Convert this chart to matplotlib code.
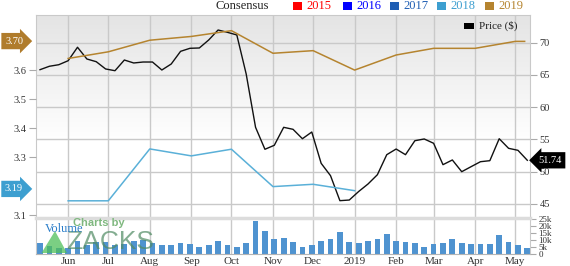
import matplotlib
matplotlib.use("Agg")
import matplotlib.pyplot as plt
import matplotlib.transforms as mtransforms
from matplotlib.patches import Rectangle, Polygon
import numpy as np
import pandas as pd

plt.rcParams["font.family"] = ["Liberation Serif", "DejaVu Serif"]

# weekly price / volume
weeks = pd.date_range("2018-05-11", periods=53, freq="7D").to_numpy()
price = [65.81, 66.34, 66.58, 67.20, 69.29, 67.47, 67.05, 65.92, 65.65, 67.31,
         66.85, 67.00, 67.00, 65.76, 66.69, 68.66, 69.13, 69.18, 70.42, 71.97,
         71.61, 71.20, 65.14, 56.86, 53.45, 54.07, 56.86, 56.55, 55.09, 56.13,
         51.27, 49.35, 45.47, 45.57, 46.89, 48.06, 49.50, 52.61, 53.49, 52.61,
         54.78, 55.05, 54.38, 51.06, 51.79, 49.97, 50.75, 51.52, 51.68, 55.09,
         53.60, 53.29, 51.74]
volume_k = [7.6, 5.5, 4.3, 4.5, 9.5, 6.4, 8.6, 8.8, 6.5, 7.0,
            9.0, 10.0, 7.9, 6.2, 6.4, 8.1, 7.1, 5.2, 6.4, 9.5,
            6.2, 4.8, 8.1, 23.8, 16.7, 11.0, 11.2, 8.6, 5.0, 6.4,
            9.0, 10.5, 15.7, 8.8, 8.1, 9.0, 10.5, 14.0, 9.5, 8.6,
            7.9, 4.8, 6.9, 7.6, 10.7, 7.9, 7.1, 7.1, 7.1, 13.6,
            8.6, 6.7, 4.5]

# consensus estimates
eps_dates_2019 = pd.to_datetime(["2018-06-01", "2018-07-01", "2018-08-01", "2018-09-01",
                                 "2018-10-01", "2018-11-01", "2018-12-01", "2019-01-01",
                                 "2019-02-01", "2019-03-01", "2019-04-01", "2019-05-01",
                                 "2019-05-08"]).to_numpy()
eps_2019 = [3.640, 3.663, 3.703, 3.716, 3.736, 3.658, 3.667, 3.600,
            3.652, 3.675, 3.675, 3.699, 3.699]
eps_dates_2018 = pd.to_datetime(["2018-06-01", "2018-07-01", "2018-08-01", "2018-09-01",
                                 "2018-10-01", "2018-11-01", "2018-12-01",
                                 "2019-01-01"]).to_numpy()
eps_2018 = [3.149, 3.149, 3.328, 3.304, 3.327, 3.198, 3.206, 3.184]

month_ticks = pd.date_range("2018-06-01", "2019-05-01", freq="MS").to_numpy()
month_labels = ["Jun", "Jul", "Aug", "Sep", "Oct", "Nov", "Dec", "2019",
                "Feb", "Mar", "Apr", "May"]
price_ticks = [45, 50, 55, 60, 65, 70]
eps_ticks = [3.1, 3.3, 3.4, 3.5, 3.6]
vol_ticks = [0, 5, 10, 15, 20, 25]
vol_labels = ["0", "5k", "10k", "15k", "20k", "25k"]

years = ["2015", "2016", "2017", "2018", "2019"]
year_colors = ["#ff0000", "#0000ff", "#1f5eb3", "#3d9fd0", "#b5842f"]

W, H = 570, 266
fig = plt.figure(figsize=(W / 100, H / 100), dpi=100)


def box(l, t, r, b):
    return [l / W, 1 - b / H, (r - l) / W, (b - t) / H]


def fx(px):
    return px / W


def fy(py):
    return 1 - py / H


xmin, xmax = np.datetime64("2018-05-08"), np.datetime64("2019-05-12")
grid_c = "#c9c9c9"
tick_c = "#333333"

# gradient background
bg = fig.add_axes(box(36, 15, 530, 218), zorder=0)
t = np.linspace(0, 1, 200)
shade = (228 + 27 * np.clip(t / 0.62, 0, 1)) / 255
bg.imshow(np.dstack([shade, shade, shade]).reshape(200, 1, 3), aspect="auto",
          extent=[0, 1, 0, 1])
bg.axis("off")

# price axes
ax = fig.add_axes(box(36, 15, 530, 218), zorder=1)
ax.patch.set_visible(False)
ax2 = ax.twinx()

ax.set_xlim(xmin, xmax)
ax.set_ylim(42.78, 74.3)
ax.yaxis.tick_right()
ax.set_yticks(price_ticks)
ax.set_xticks(month_ticks)
ax.tick_params(axis="x", length=0, labelbottom=False)
ax.tick_params(axis="y", length=5, color="#aaaaaa", labelsize=7.5,
               labelcolor=tick_c, pad=2, left=False, labelleft=False,
               right=True, labelright=True)
ax.grid(True, color=grid_c, lw=1)
ax.set_axisbelow(True)
for s in ax.spines.values():
    s.set_color(grid_c)
ax.spines["bottom"].set_visible(False)
ax.plot(weeks, price, color="#111111", lw=1, zorder=3)

# consensus axes
ax2.set_zorder(2)
ax2.set_ylim(3.0897, 3.79)
ax2.set_yticks(eps_ticks)
ax2.tick_params(axis="y", length=5, color="#aaaaaa", labelsize=7.5,
                labelcolor=tick_c, pad=2, left=True, labelleft=True,
                right=False, labelright=False)
for s in ax2.spines.values():
    s.set_visible(False)
ax2.plot(eps_dates_2019, eps_2019, color="#b5842f", lw=1.1)
ax2.plot(eps_dates_2018, eps_2018, color="#5ab0d8", lw=1.1)

blend2 = mtransforms.blended_transform_factory(ax2.transAxes, ax2.transData)
ax2.text((14 - 36) / 494, 3.70, "3.70", transform=blend2, ha="center", va="center",
         color="white", fontsize=7.5, clip_on=False,
         bbox=dict(boxstyle="rarrow,pad=0.35", fc="#b07c2c", ec="none"))
ax2.text((14 - 36) / 494, 3.19, "3.19", transform=blend2, ha="center", va="center",
         color="white", fontsize=7.5, clip_on=False,
         bbox=dict(boxstyle="rarrow,pad=0.35", fc="#3d9fd0", ec="none"))

blend1 = mtransforms.blended_transform_factory(ax2.transAxes, ax.transData)
ax2.text((550 - 36) / 494, price[-1], f"{price[-1]:.2f}", transform=blend1,
         ha="center", va="center", color="white", fontsize=7.5, clip_on=False,
         bbox=dict(boxstyle="larrow,pad=0.35", fc="black", ec="none"), zorder=5)

# volume axes
axv = fig.add_axes(box(36, 218, 530, 254), zorder=1)
axv.set_xlim(xmin, xmax)
axv.set_ylim(0, 25.7)
axv.bar(weeks, volume_k, width=4.3, color="#4f93d0", zorder=2)
axv.set_xticks(month_ticks)
axv.set_xticklabels(month_labels)
axv.tick_params(axis="x", length=0, labelsize=8, labelcolor=tick_c, pad=2)
axv.yaxis.tick_right()
axv.set_yticks(vol_ticks)
axv.set_yticklabels(vol_labels)
axv.tick_params(axis="y", length=4, color="#aaaaaa", labelsize=6.5,
                labelcolor=tick_c, pad=2)
axv.grid(axis="x", color=grid_c, lw=1)
axv.set_axisbelow(True)
for s in axv.spines.values():
    s.set_color(grid_c)
axv.spines["top"].set_color("#dcdcdc")
axv.spines["top"].set_linewidth(2.5)
axv.spines["bottom"].set_color("#b5b5b5")

# watermark
fig.patches.append(Polygon([(fx(55), fy(231)), (fx(41.5), fy(253)), (fx(67), fy(253))],
                           closed=True, transform=fig.transFigure,
                           fc="#4fbf5a", ec="none", alpha=0.75, zorder=3))
fig.text(fx(66), fy(242), "ZACKS", family="Liberation Sans", fontsize=19,
         color="#4f8a62", alpha=0.7, va="center", ha="left", zorder=4)
fig.text(fx(73), fy(222.5), "Charts by", family="Liberation Sans",
         fontweight="bold", fontsize=8, color="#7fb87f", va="center", zorder=4)
fig.text(fx(45), fy(229), "Volume", fontsize=9, color="#2a7dc9", va="center", zorder=4)

# header legend
fig.text(fx(215), fy(6), "Consensus", fontsize=9, color="#222222", va="center")
sq_x = [293, 343, 390, 437, 485]
for x0, yr, c in zip(sq_x, years, year_colors):
    fig.patches.append(Rectangle((fx(x0), fy(10)), 9 / W, 8 / H,
                                 transform=fig.transFigure, fc=c, ec="none"))
    fig.text(fx(x0 + 13), fy(6), yr, fontsize=9, color=c, va="center")

# price legend
fig.patches.append(Rectangle((fx(464), fy(28.5)), 10 / W, 5 / H,
                             transform=fig.transFigure, fc="black", ec="none", zorder=5))
fig.text(fx(479), fy(26), "Price ($)", fontsize=8, color="#222222", va="center", zorder=5)

fig.savefig("out.png", dpi=100)
